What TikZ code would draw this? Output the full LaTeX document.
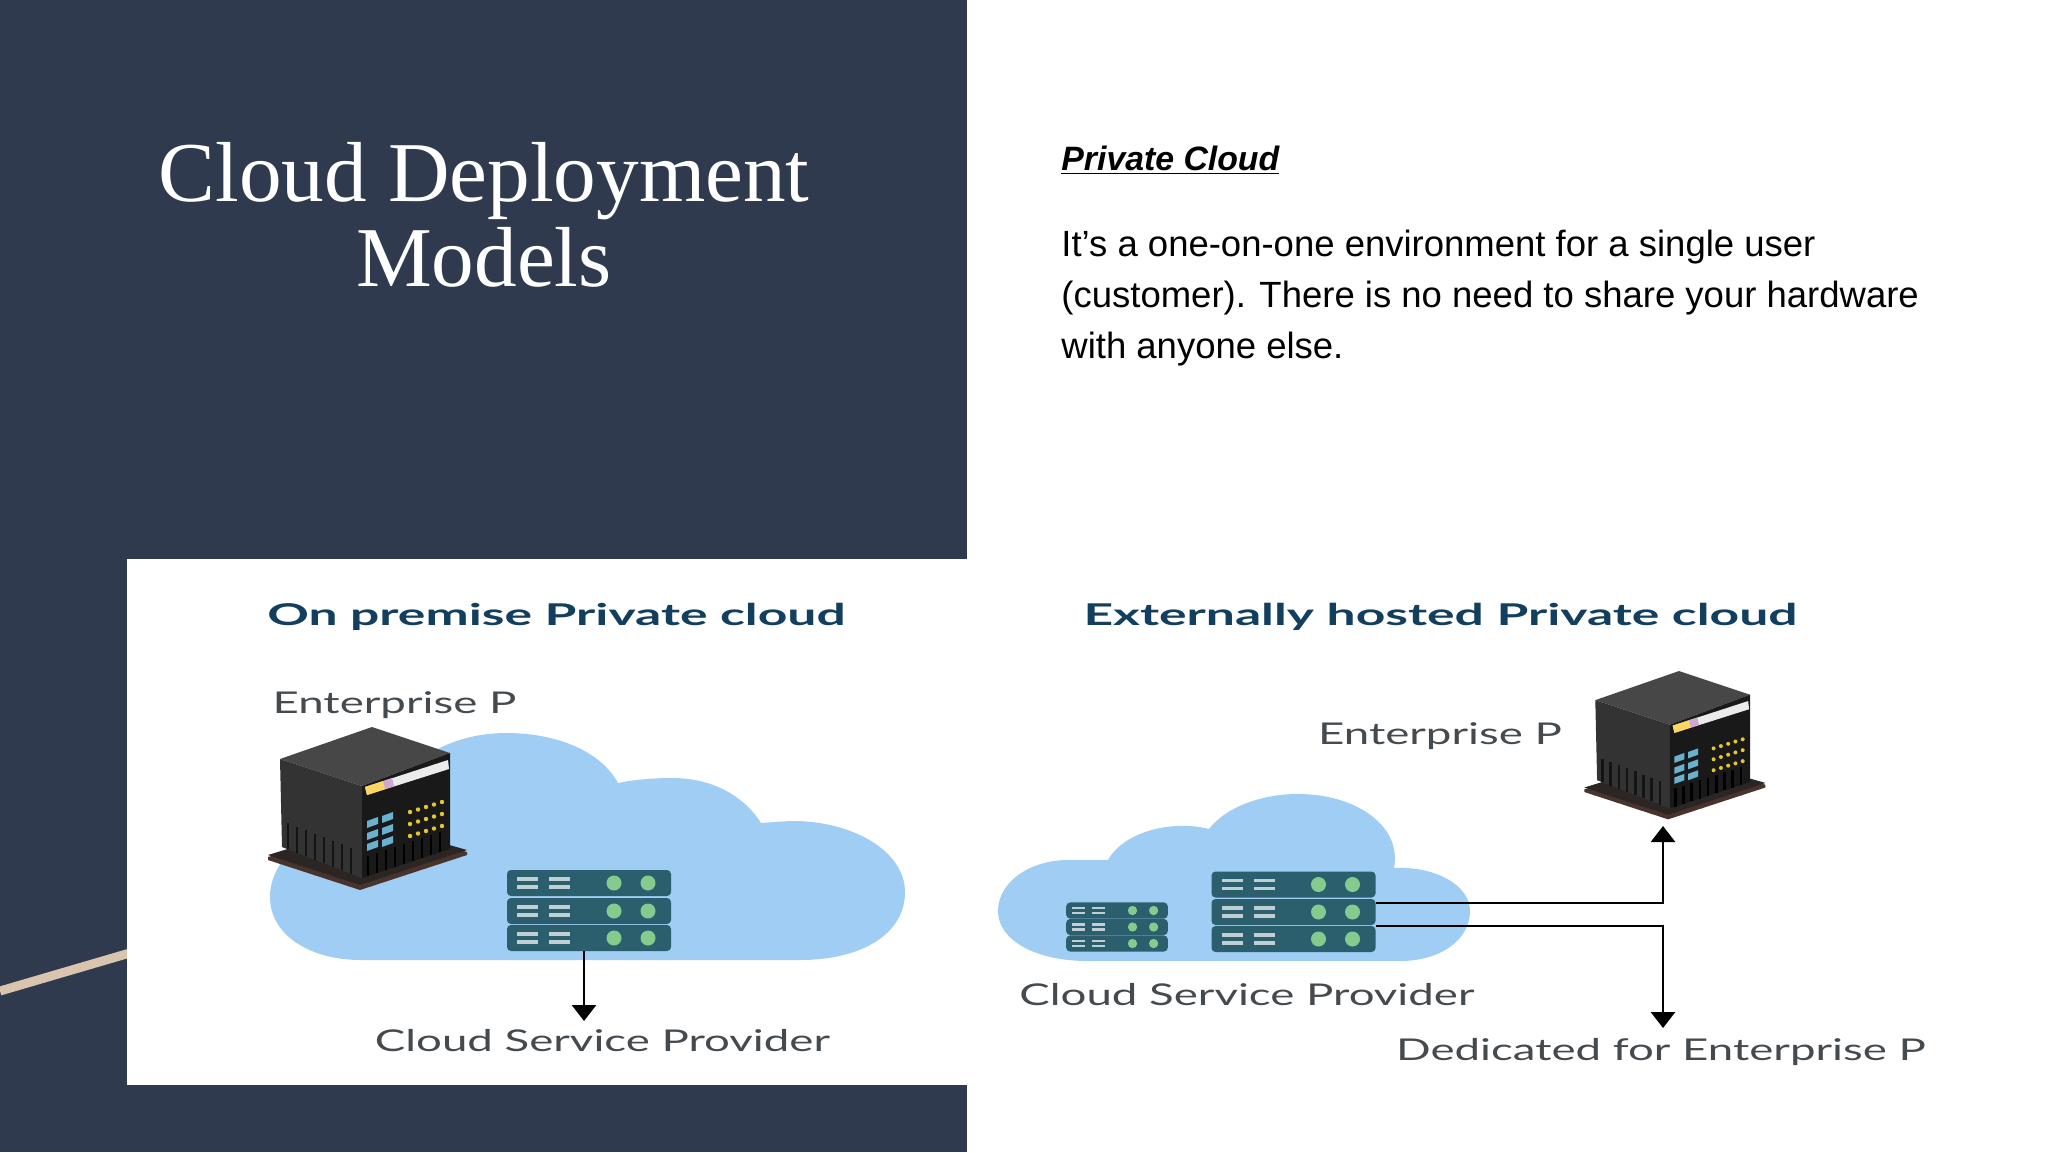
\documentclass[tikz,border=0pt]{standalone}
\usepackage{fontspec}
\setmainfont{Liberation Sans}
\newfontfamily\titlefont{Liberation Serif}
\newfontfamily\shotfont[FakeStretch=1.52]{Lato}
\newfontfamily\shothead[FakeStretch=1.72]{Lato}
\usetikzlibrary{arrows.meta, positioning}
\definecolor{slidedark}{HTML}{303A4E}
\definecolor{linetan}{HTML}{D9C4AE}
\definecolor{cloudblue}{HTML}{9FCDF3}
\definecolor{serverteal}{HTML}{2B5F6E}
\definecolor{servergreen}{HTML}{86CB8E}
\definecolor{shotheading}{HTML}{123F5E}
\definecolor{shotgrey}{HTML}{454A4F}
\definecolor{plinthdark}{HTML}{2B2624}
\definecolor{plinthedge}{HTML}{4A322D}
\newcommand{\cloudbodytext}{It’s a one-on-one environment for a single user\\(customer). There is no need to share your hardware\\with anyone else.}
\tikzset{
  slidetitle/.style={text=white, align=center, font=\titlefont\fontsize{42.6}{42.5}\selectfont},
  shottitle/.style={anchor=base, inner sep=0pt, text=shotheading, font=\shothead\bfseries\fontsize{15}{18}\selectfont},
  shotlabel/.style={anchor=base, inner sep=0pt, text=shotgrey, font=\shotfont\fontsize{15}{18}\selectfont},
  serverbox/.style={rounded corners=2pt, fill=serverteal, inner sep=0pt},
  flowline/.style={line width=1.4pt, black, -{Triangle[width=12pt, length=8pt]}},
  servertower/.pic={
    %plinth under the tower
    \fill[plinthedge] (-104,130) -- (0,98) -- (95,125) -- (95,128) -- (-12,163) -- (-104,133) -- cycle;
    \fill[plinthdark] (-104,128) -- (0,96) -- (95,123) -- (-12,158) -- cycle;
    %three faces
    \fill[black!72] (0,0) -- (-92,32) -- (-10,59) -- (78,26) -- cycle;
    \fill[black!80] (-92,32) -- (-10,59) -- (-10,151) -- (-90,120) -- cycle;
    \fill[black!90] (-10,59) -- (78,26) -- (78,122) -- (-10,151) -- cycle;
    %vents
    \foreach \ventx in {-84,-75,...,-15} {
      \pgfmathsetmacro{\venty}{120+(\ventx+90)*31/80}
      \draw[black!92, line width=1.3pt] (\ventx,\venty-26) -- (\ventx,\venty);
    }
    \foreach \ventx in {-4,5,...,74} {
      \pgfmathsetmacro{\venty}{151-(\ventx+10)*29/88}
      \draw[black, line width=1.3pt] (\ventx,\venty-20) -- (\ventx,\venty);
    }
    %label strip
    \fill[black!8] (-7,60) -- (76,33) -- (77,42) -- (-5,68) -- cycle;
    \fill[yellow!50!orange!60] (-7,60) -- (11,54) -- (13,62) -- (-5,68) -- cycle;
    \fill[violet!35] (11,54) -- (20,51) -- (22,59) -- (13,62) -- cycle;
    %blue lights
    \foreach \lampx/\lampy in {0/98, 0/110, 0/121, 15/93, 15/105, 15/117} {
      \fill[cyan!45!teal!70] (\lampx-5,\lampy+3) -- (\lampx+6,\lampy-1) -- (\lampx+6,\lampy-8) -- (\lampx-5,\lampy-4) -- cycle;
    }
    %yellow lights
    \foreach \rowy in {85, 97, 109} {
      \foreach \dotn in {0,...,4} {
        \fill[yellow!55!brown] (38+8*\dotn,\rowy-2.5*\dotn) circle (2.2);
      }
    }
  }
}
%One tray of a server rack: name, x, y, size
\newcommand{\serverunit}[4]{
  \draw (#2,#3) node[serverbox, minimum width=#4*82pt, minimum height=#4*13pt] (#1) {};
  \begin{scope}[shift={(#2,#3)}, scale=#4]
    \foreach \dashx in {-72,-40} {
      \draw[white!70!serverteal, line width=#4*1.8pt] (\dashx,-4) -- ++(21,0);
      \draw[white!70!serverteal, line width=#4*1.8pt] (\dashx,4) -- ++(21,0);
    }
    \fill[servergreen] (25,0) circle (7.5);
    \fill[servergreen] (59,0) circle (7.5);
  \end{scope}
}

\begin{document}
\begin{tikzpicture}[x=0.5pt, y=-0.5pt]
  \useasboundingbox (0,0) rectangle (2048,1152);
  \fill[white] (0,0) rectangle (2048,1152);
  \fill[slidedark] (0,0) rectangle (967,1152);
  \draw[linetan, line width=4.5pt] (0,991) -- (140,950);
  \fill[white] (127,559) rectangle (967,1085);

  %Slide text
  \draw (484,215) node[slidetitle] (slidename) {Cloud Deployment\\Models};
  \draw (1061,170) node[anchor=base west, inner sep=0pt, font=\bfseries\itshape\fontsize{16.9}{20}\selectfont] (cloudhead) {\underline{Private Cloud}};
  \draw (1061,298) node[anchor=west, inner sep=0pt, align=left, font=\fontsize{18.25}{25.5}\selectfont] (cloudbody) {\cloudbodytext};

  %Clouds
  \fill[cloudblue] (361,960) -- (800,960) .. controls (860,960) and (905,935) .. (905,892) .. controls (905,850) and (850,820) .. (790,821) -- (761,823) .. controls (752,808) and (725,778) .. (672,778) .. controls (652,778) and (632,780) .. (618,783) .. controls (600,750) and (555,733) .. (506,733) .. controls (470,733) and (440,745) .. (420,760) -- (290,850) .. controls (278,865) and (270,880) .. (270,897) .. controls (270,935) and (310,960) .. (361,960) -- cycle;
  \fill[cloudblue] (1088,961) -- (1400,961) .. controls (1440,961) and (1470,940) .. (1470,911) .. controls (1470,885) and (1435,866) .. (1394,868) .. controls (1402,825) and (1355,794) .. (1298,794) .. controls (1260,794) and (1225,808) .. (1209,829) .. controls (1175,820) and (1125,830) .. (1108,860) -- (1068,860) .. controls (1030,860) and (998,882) .. (998,911) .. controls (998,940) and (1035,961) .. (1088,961) -- cycle;

  %Server racks
  \serverunit{premtop}{589}{883}{1}
  \serverunit{premmid}{589}{911}{1}
  \serverunit{premlow}{589}{938}{1}
  \serverunit{hosttop}{1293.5}{884.5}{1}
  \serverunit{hostmid}{1293.5}{912}{1}
  \serverunit{hostlow}{1293.5}{939}{1}
  \serverunit{sparetop}{1117}{910.5}{.62}
  \serverunit{sparemid}{1117}{927}{.62}
  \serverunit{sparelow}{1117}{943.5}{.62}

  %Enterprise towers
  \pic (premtower) at (372,727) {servertower};
  \pic[scale=.91] (hosttower) at (1679,671) {servertower};

  %Labels of the two pictures
  \draw (556.5,625) node[shottitle] (premtitle) {On premise Private cloud};
  \draw (1440.5,625) node[shottitle] (hosttitle) {Externally hosted Private cloud};
  \draw (394.5,713.5) node[shotlabel] (premuser) {Enterprise P};
  \draw (602.5,1051) node[shotlabel] (premowner) {Cloud Service Provider};
  \draw (1440,744.5) node[shotlabel] (hostuser) {Enterprise P};
  \draw (1247,1005) node[shotlabel] (hostowner) {Cloud Service Provider};
  \draw (1661,1060) node[shotlabel] (hostdedicated) {Dedicated for Enterprise P};

  %Ends and bends of the arrows
  \coordinate (premtip) at (584,1021);
  \coordinate (bendup) at (1663,903);
  \coordinate (uptip) at (1663,826);
  \coordinate (benddown) at (1663,926);
  \coordinate (downtip) at (1663,1028);

  %Arrows
  \path (premtip |- premlow.south) edge[flowline] (premtip);
  \draw[flowline] (hostmid.east |- bendup) -- (bendup) -- (uptip);
  \draw[flowline] (hostmid.east |- benddown) -- (benddown) -- (downtip);
\end{tikzpicture}
\end{document}
